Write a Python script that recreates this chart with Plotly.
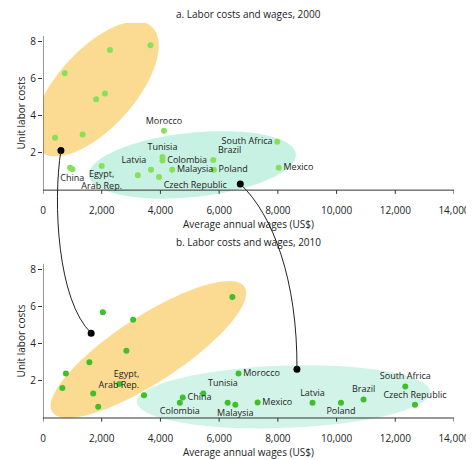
import numpy as np
import plotly.graph_objects as go
from plotly.subplots import make_subplots

# ---- data: 2000 ----
a_x = [410, 740, 1350, 1810, 2110, 2280, 3660, 920, 1000, 2000, 3230, 3680, 4120, 4070, 4070, 4400, 3950, 5800, 5820, 7980, 8030]
a_y = [2.82, 6.3, 3.0, 4.9, 5.2, 7.55, 7.8, 1.2, 1.13, 1.3, 0.8, 1.1, 3.2, 1.78, 1.6, 1.1, 0.71, 1.62, 1.1, 2.61, 1.2]
a_lab = ["", "", "", "", "", "", "", "", "China", "Egypt,<br>Arab Rep.", "", "Latvia", "Morocco", "Tunisia", "Colombia",
         "Malaysia", "Czech Republic", "Brazil", "Poland", "South Africa", "Mexico"]
a_pos = ["top center"] * 8 + ["bottom center", "bottom center", "top center", "top left", "top center",
         "top center", "middle right", "middle right", "bottom right", "top right", "middle right", "middle left", "middle right"]
a_mark = [(610, 2.14), (6720, 0.33)]

# ---- data: 2010 ----
b_x = [660, 780, 1580, 1710, 1880, 2040, 2600, 2840, 3070, 6450, 3440, 4760, 4660, 5460, 6290, 6550, 6660, 7310, 9180, 10150, 10920, 12340, 12670]
b_y = [1.62, 2.4, 3.0, 1.32, 0.61, 5.7, 1.83, 3.62, 5.29, 6.52, 1.22, 1.1, 0.82, 1.32, 0.82, 0.71, 2.4, 0.83, 0.82, 0.82, 1.0, 1.7, 0.71]
b_lab = [""] * 10 + ["Egypt,<br>Arab Rep.", "China", "Colombia", "Tunisia", "", "Malaysia", "Morocco", "Mexico",
                     "Latvia", "Poland", "Brazil", "South Africa", "Czech Republic"]
b_pos = ["top center"] * 10 + ["top left", "middle right", "bottom center", "top right", "top center", "bottom center",
                               "middle right", "middle right", "top center", "bottom center", "top center", "top center", "top center"]
b_mark = [(1640, 4.57), (8650, 2.63)]
x_ticks = [0, 2000, 4000, 6000, 8000, 10000, 12000, 14000]

W, H = 474, 460
ML, MR, MT, MB = 35, 16, 15, 26
XR = [0, 14000]
YR = [-0.7, 9]
PW, PH = W - ML - MR, H - MT - MB
dom_a = [0.5585, 1.0]
dom_b = [0.0, 0.4415]
sx = PW / (XR[1] - XR[0])
sy = PH * (dom_a[1] - dom_a[0]) / (YR[1] - YR[0])

fig = make_subplots(rows=2, cols=1)
FONT = "Open Sans, Arial, sans-serif"

def ell(cx, cy, a, b, ang):
    t = np.linspace(0, 2 * np.pi, 80)
    r = np.deg2rad(ang)
    px = a * np.cos(t) * np.cos(r) - b * np.sin(t) * np.sin(r)
    py = a * np.cos(t) * np.sin(r) + b * np.sin(t) * np.cos(r)
    xs, ys = cx + px / sx, cy + py / sy
    return "M " + " L ".join(f"{x:.1f},{y:.3f}" for x, y in zip(xs, ys)) + " Z"

ellipses = [
    (1, 1800, 5.45, 86, 40, 48, "rgba(250,207,110,0.75)"),
    (1, 5090, 1.36, 107, 33, 6, "rgba(180,236,216,0.75)"),
    (2, 3590, 3.69, 118, 34, 33, "rgba(250,207,110,0.75)"),
    (2, 8190, 1.14, 151, 32, 2, "rgba(180,236,216,0.6)"),
]
for row, cx, cy, a, b, ang, col in ellipses:
    sfx = "" if row == 1 else "2"
    fig.add_shape(type="path", path=ell(cx, cy, a, b, ang), xref="x" + sfx, yref="y" + sfx,
                  fillcolor=col, line=dict(width=0), layer="below")

for row in (1, 2):
    sfx = "" if row == 1 else "2"
    fig.add_shape(type="line", x0=0, x1=0, y0=0, y1=8.3, xref="x" + sfx, yref="y" + sfx, line=dict(color="#333", width=1))
    fig.add_shape(type="line", x0=0, x1=14000, y0=0, y1=0, xref="x" + sfx, yref="y" + sfx, line=dict(color="#333", width=1))
    for t in x_ticks:
        fig.add_shape(type="line", x0=t, x1=t, y0=0, y1=-0.2, xref="x" + sfx, yref="y" + sfx, line=dict(color="#333", width=1))

for row, xs, ys, labs, pos, col in [(1, a_x, a_y, a_lab, a_pos, "#86e05a"), (2, b_x, b_y, b_lab, b_pos, "#3fbf2a")]:
    fig.add_trace(go.Scatter(x=xs, y=ys, mode="markers+text", text=labs, textposition=pos,
                             marker=dict(color=col, size=6), textfont=dict(family=FONT, size=9, color="#222"),
                             showlegend=False, cliponaxis=False), row=row, col=1)
for row, mk in [(1, a_mark), (2, b_mark)]:
    fig.add_trace(go.Scatter(x=[m[0] for m in mk], y=[m[1] for m in mk], mode="markers",
                             marker=dict(color="black", size=7), showlegend=False), row=row, col=1)

def to_paper(x, y, dom):
    return (x - XR[0]) / (XR[1] - XR[0]), dom[0] + (y - YR[0]) / (YR[1] - YR[0]) * (dom[1] - dom[0])
def px2paper(px, py):
    return (px - ML) / PW, (H - MB - py) / PH

for (m0, m1, c1, c2) in [(a_mark[0], b_mark[0], (45, 200), (50, 300)), (a_mark[1], b_mark[1], (272, 212), (297, 280))]:
    p0 = to_paper(*m0, dom_a); p1 = to_paper(*m1, dom_b)
    q1 = px2paper(*c1); q2 = px2paper(*c2)
    fig.add_shape(type="path", xref="paper", yref="paper",
                  path=f"M {p0[0]},{p0[1]} C {q1[0]},{q1[1]} {q2[0]},{q2[1]} {p1[0]},{p1[1]}",
                  line=dict(color="#222", width=1))

ax = dict(range=XR, tickvals=x_ticks, tickformat=",d", showgrid=False,
          zeroline=False, showline=False, ticks="", tickfont=dict(family=FONT, size=10, color="#222"),
          title=dict(text="Average annual wages (US$)", font=dict(family=FONT, size=10, color="#222"), standoff=4))
ay = dict(range=YR, tickvals=[2, 4, 6, 8], showgrid=False, zeroline=False,
          showline=False, ticks="outside", ticklen=4, tickcolor="#333", tickfont=dict(family=FONT, size=10, color="#222"),
          title=dict(text="Unit labor costs", font=dict(family=FONT, size=10, color="#222"), standoff=2))
fig.update_layout(xaxis=dict(ax), xaxis2=dict(ax), yaxis=dict(ay, domain=dom_a), yaxis2=dict(ay, domain=dom_b),
                  width=W, height=H, margin=dict(l=ML, r=MR, t=MT, b=MB), plot_bgcolor="white", paper_bgcolor="white")
fig.add_annotation(text="a. Labor costs and wages, 2000", x=0.5, y=1.0, xref="paper", yref="paper", yanchor="bottom",
                   showarrow=False, font=dict(family=FONT, size=10, color="#222"))
fig.add_annotation(text="b. Labor costs and wages, 2010", x=0.5, y=dom_b[1], xref="paper", yref="paper", yanchor="bottom",
                   showarrow=False, font=dict(family=FONT, size=10, color="#222"))
fig.write_html("out.html")
